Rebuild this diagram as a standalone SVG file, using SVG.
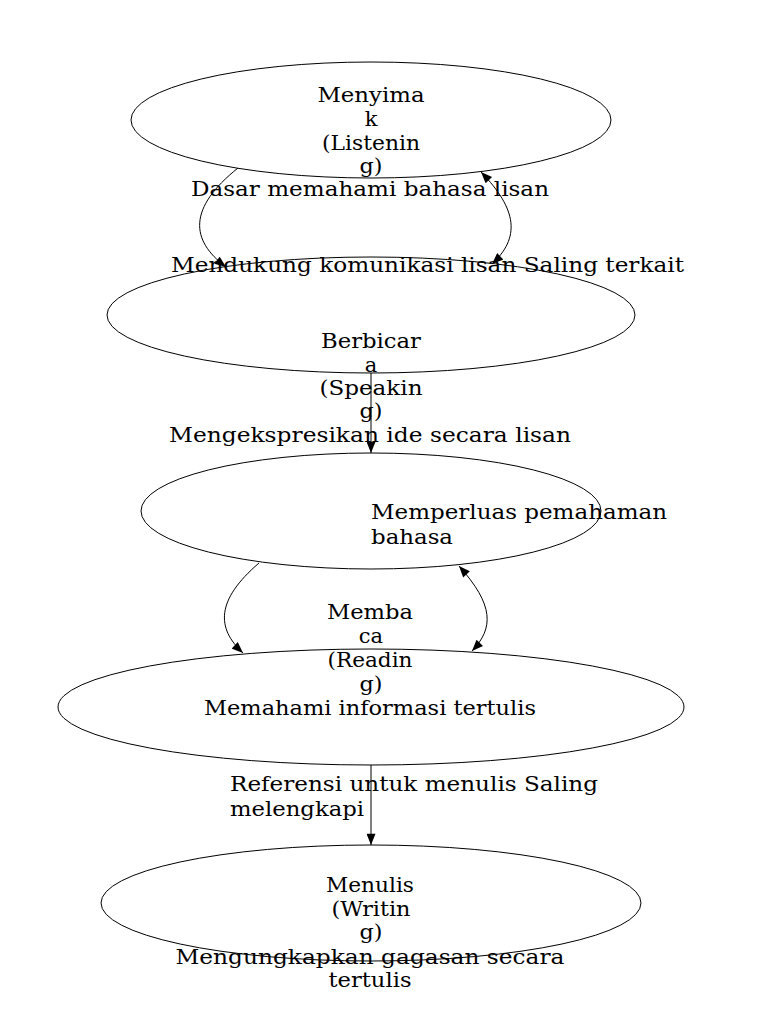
<svg xmlns="http://www.w3.org/2000/svg" width="768" height="1024" viewBox="0 0 768 1024">
<defs>
<marker id="ah" viewBox="0 0 10 8" refX="10" refY="4" markerWidth="13" markerHeight="9" markerUnits="userSpaceOnUse" orient="auto-start-reverse">
<path d="M0,0 L10,4 L0,8 z" fill="#000"/>
</marker>
</defs>
<style>
.n{fill:none;stroke:#000;stroke-width:1}
.e{fill:none;stroke:#000;stroke-width:1}
text{font-family:"DejaVu Serif",serif;font-size:21px;fill:#000}
.c{text-anchor:middle}
</style>
<rect width="768" height="1024" fill="#fff"/>
<g id="connectors">
<path class="e" d="M238,168 C188,208 190,240 226,267" marker-end="url(#ah)"/>
<path class="e" d="M481,172 C518,210 520,238 492,264" marker-start="url(#ah)" marker-end="url(#ah)"/>
<path class="e" d="M371,373 L371,453" marker-end="url(#ah)"/>
<path class="e" d="M259,563 C216,600 216,628 243,653" marker-end="url(#ah)"/>
<path class="e" d="M459,566 C494,605 494,628 472,651" marker-start="url(#ah)" marker-end="url(#ah)"/>
<path class="e" d="M371,765 L371,845" marker-end="url(#ah)"/>
</g>
<g id="n1">
<ellipse class="n" cx="371" cy="120" rx="240" ry="58"/>
<text class="c" x="371" y="102" textLength="107" lengthAdjust="spacingAndGlyphs">Menyima</text>
<text class="c" x="371" y="126">k</text>
<text class="c" x="371" y="150" textLength="98" lengthAdjust="spacingAndGlyphs">(Listenin</text>
<text class="c" x="371" y="173" textLength="23" lengthAdjust="spacingAndGlyphs">g)</text>
<text class="c" x="370" y="196" textLength="358" lengthAdjust="spacingAndGlyphs">Dasar memahami bahasa lisan</text>
</g>
<g id="n2">
<ellipse class="n" cx="371" cy="315" rx="264" ry="58"/>
<text x="171" y="272" textLength="513" lengthAdjust="spacingAndGlyphs">Mendukung komunikasi lisan Saling terkait</text>
<text class="c" x="371" y="348" textLength="100" lengthAdjust="spacingAndGlyphs">Berbicar</text>
<text class="c" x="371" y="372">a</text>
<text class="c" x="371" y="395" textLength="103" lengthAdjust="spacingAndGlyphs">(Speakin</text>
<text class="c" x="371" y="418" textLength="23" lengthAdjust="spacingAndGlyphs">g)</text>
<text class="c" x="370" y="442" textLength="402" lengthAdjust="spacingAndGlyphs">Mengekspresikan ide secara lisan</text>
</g>
<g id="n3">
<ellipse class="n" cx="371" cy="511" rx="230" ry="58"/>
<text x="371" y="519" textLength="296" lengthAdjust="spacingAndGlyphs">Memperluas pemahaman</text>
<text x="371" y="544" textLength="82" lengthAdjust="spacingAndGlyphs">bahasa</text>
</g>
<g id="n4">
<ellipse class="n" cx="371" cy="707" rx="313" ry="58"/>
<text class="c" x="370" y="619" textLength="86" lengthAdjust="spacingAndGlyphs">Memba</text>
<text class="c" x="371" y="643">ca</text>
<text class="c" x="370" y="667" textLength="85" lengthAdjust="spacingAndGlyphs">(Readin</text>
<text class="c" x="371" y="691" textLength="23" lengthAdjust="spacingAndGlyphs">g)</text>
<text class="c" x="370" y="715" textLength="332" lengthAdjust="spacingAndGlyphs">Memahami informasi tertulis</text>
<text x="230" y="791" textLength="368" lengthAdjust="spacingAndGlyphs">Referensi untuk menulis Saling</text>
<text x="230" y="816" textLength="134" lengthAdjust="spacingAndGlyphs">melengkapi</text>
</g>
<g id="n5">
<ellipse class="n" cx="371" cy="903" rx="270" ry="58"/>
<text class="c" x="370" y="892" textLength="88" lengthAdjust="spacingAndGlyphs">Menulis</text>
<text class="c" x="371" y="916" textLength="79" lengthAdjust="spacingAndGlyphs">(Writin</text>
<text class="c" x="371" y="939" textLength="23" lengthAdjust="spacingAndGlyphs">g)</text>
<text class="c" x="370" y="964" textLength="389" lengthAdjust="spacingAndGlyphs">Mengungkapkan gagasan secara</text>
<text class="c" x="370" y="987" textLength="83" lengthAdjust="spacingAndGlyphs">tertulis</text>
</g>
</svg>
